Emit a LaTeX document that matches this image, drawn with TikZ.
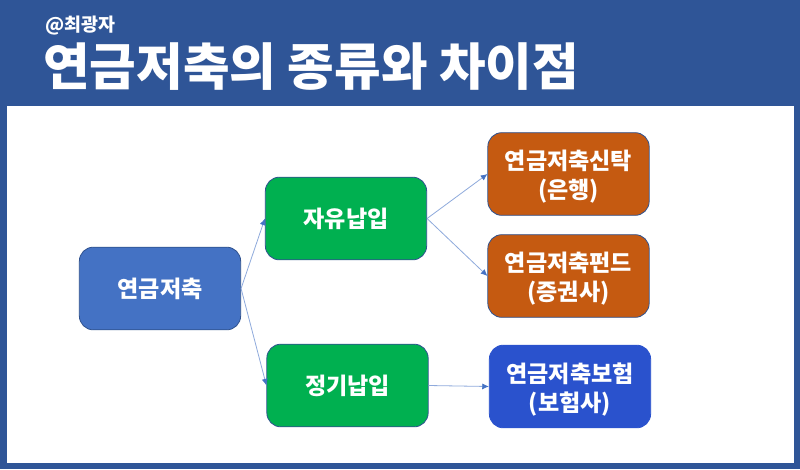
\documentclass[tikz,border=0pt]{standalone}
\usepackage{fontspec}
\setmainfont{Noto Sans CJK KR}[BoldFont={Noto Sans CJK KR Black}]
\usetikzlibrary{arrows.meta}
\definecolor{hdr}{RGB}{47,85,151}
\definecolor{bluebox}{RGB}{68,114,196}
\definecolor{greenbox}{RGB}{0,176,80}
\definecolor{orangebox}{RGB}{197,90,17}
\definecolor{royalbox}{RGB}{42,82,205}
\definecolor{edgeln}{RGB}{47,82,143}
\definecolor{conn}{RGB}{143,170,220}
\newcommand{\toppad}{\rule{0pt}{18.8pt}}
\tikzset{
 x=0.75pt,y=-0.75pt,
 boxx/.style={draw=edgeln,line width=0.6pt,rounded corners=10.5pt,text=white,font=\bfseries\fontsize{17.3}{19}\selectfont,align=center,inner sep=0pt,anchor=center,minimum width=121pt,minimum height=62pt},
 twoline/.style={font=\bfseries\fontsize{17.3}{22}\selectfont},
 conn/.style={draw=conn,line width=0.6pt,-{Latex[length=5pt,width=4.5pt,color=bluebox]},shorten >=0pt},
}
\begin{document}
\begin{tikzpicture}
\useasboundingbox (0,0) rectangle (800,469);
\fill[hdr] (0,0) rectangle (800,469);
\fill[white] (6.5,106) rectangle (794,462.5);
\node[text=white,font=\bfseries\fontsize{13.8}{14}\selectfont,anchor=west,inner sep=0pt] (by) at (45,26) {@최광자};
\node[text=white,font=\bfseries\fontsize{38}{40}\selectfont,anchor=west,inner sep=0pt] (title) at (43,66.5) {연금저축의 종류와 차이점};
\node[boxx,fill=bluebox] (a) at (160,288.5) {연금저축};
\node[boxx,fill=greenbox] (b) at (346,218.5) {자유납입};
\node[boxx,fill=greenbox] (c) at (347.5,385.5) {정기납입};
\node[boxx,twoline,fill=orangebox] (d) at (568.5,174) {\toppad 연금저축신탁\\(은행)};
\node[boxx,twoline,fill=orangebox] (e) at (568.5,276) {\toppad 연금저축펀드\\(증권사)};
\node[boxx,twoline,fill=royalbox,draw=royalbox] (f) at (570,386.5) {\toppad 연금저축보험\\(보험사)};
\draw[conn] (a.east) -- (b.west);
\draw[conn] (a.east) -- (c.west);
\draw[conn] (b.east) -- (d.west);
\draw[conn] (b.east) -- (e.west);
\draw[conn] (c.east) -- (f.west);
\end{tikzpicture}
\end{document}
